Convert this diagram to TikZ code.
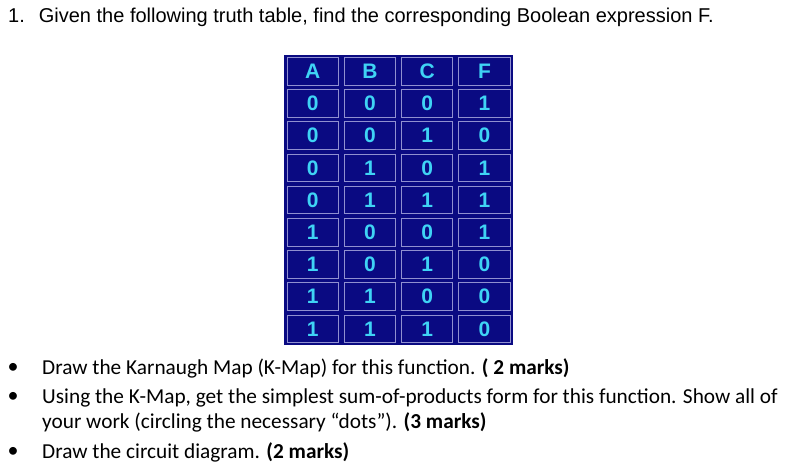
\documentclass[tikz,border=0pt]{standalone}
\usepackage{fontspec}
\setmainfont{Carlito}
\newfontfamily\arialf{Liberation Sans}
\definecolor{navy}{HTML}{0A0A82}
\definecolor{cellline}{HTML}{9090D0}
\definecolor{cyant}{HTML}{3FD3F5}
\begin{document}
\begin{tikzpicture}[x=1pt,y=-1pt,
  cell/.style={fill=navy,draw=none,minimum width=57pt,minimum height=32.2pt,inner sep=0pt,anchor=north west},
  val/.style={text=cyant,font=\arialf\fontsize{21}{23}\selectfont\bfseries},
  txt/.style={anchor=base west,inner sep=0pt,font=\fontsize{21.3}{24}\selectfont},
  bul/.style={anchor=center,inner sep=0pt,font=\fontsize{22}{24}\selectfont}]
\useasboundingbox (0,0) rectangle (808,468);
\fill[white] (0,0) rectangle (808,468);
\node[anchor=base west,inner sep=0pt,font=\arialf\fontsize{20}{22}\selectfont] (title) at (8,23) {1.\hspace{14pt}Given the following truth table, find the corresponding Boolean expression F.};
\fill[navy] (284,55) rectangle (513,345);
\foreach \r/\a/\b/\c/\f [count=\i from 0] in {x/A/B/C/F,x/0/0/0/1,x/0/0/1/0,x/0/1/0/1,x/0/1/1/1,x/1/0/0/1,x/1/0/1/0,x/1/1/0/0,x/1/1/1/0}{
  \foreach \v [count=\j from 0] in {\a,\b,\c,\f}{
    \node[cell] (c\i\j) at ({284+57.25*\j},{55+32.2*\i}) {};
    \draw[cellline,line width=0.9pt] ([shift={(3,2.5)}]c\i\j.north west) rectangle ([shift={(-3,-2.5)}]c\i\j.south east);
    \node[val] at (c\i\j.center) {\v};
  }
}
\node[bul] (b1) at (13,368) {•};
\node[txt] (t1) at (42,374) {Draw the Karnaugh Map (K-Map) for this function. \textbf{( 2 marks)}};
\node[bul] (b2) at (13,397) {•};
\node[txt] (t2) at (42,403) {Using the K-Map, get the simplest sum-of-products form for this function. Show all of};
\node[txt] (t3) at (42,428) {your work (circling the necessary “dots”). \textbf{(3 marks)}};
\node[bul] (b3) at (13,452) {•};
\node[txt] (t4) at (42,458) {Draw the circuit diagram. \textbf{(2 marks)}};
\end{tikzpicture}
\end{document}
